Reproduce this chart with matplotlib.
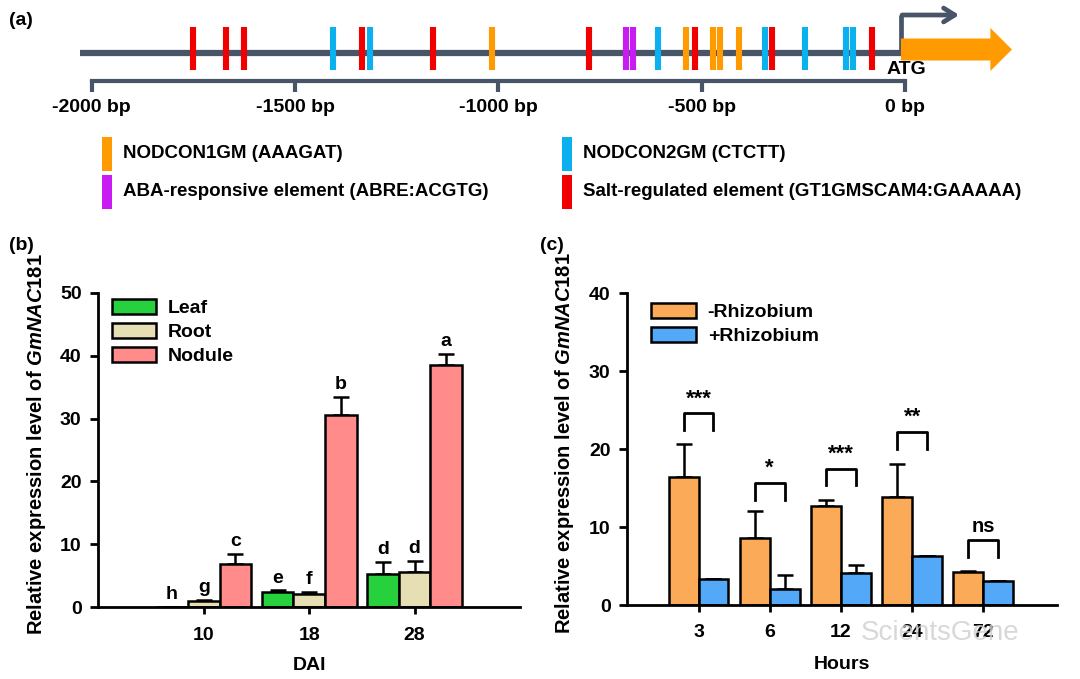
import numpy as np
import matplotlib
matplotlib.use('Agg')
from matplotlib import pyplot as plt
from matplotlib.patches import Rectangle, Polygon

plt.rcParams['font.family'] = ['Liberation Sans', 'DejaVu Sans']
plt.rcParams['font.weight'] = 'bold'
plt.rcParams['mathtext.fontset'] = 'custom'
plt.rcParams['mathtext.it'] = 'Liberation Sans:italic:bold'
plt.rcParams['mathtext.rm'] = 'Liberation Sans:bold'

# (a) promoter elements, positions in bp upstream of ATG
nodcon1_bp = [-1016, -538, -473, -455, -408]
nodcon2_bp = [-1408, -1315, -608, -344, -246, -146, -127]
abre_bp = [-687, -669]
salt_bp = [-1750, -1671, -1626, -1336, -1160, -776, -516, -327, -81]
scale_ticks = [-2000, -1500, -1000, -500, 0]
element_names = ['NODCON1GM (AAAGAT)', 'NODCON2GM (CTCTT)',
                 'ABA-responsive element (ABRE:ACGTG)',
                 'Salt-regulated element (GT1GMSCAM4:GAAAAA)']
element_colors = ['#ff9a00', '#0bb0ee', '#c81cf2', '#f00000']

# (b) tissues
dai = ['10', '18', '28']
tissues = ['Leaf', 'Root', 'Nodule']
leaf = [0.05, 2.5, 5.3]
leaf_err = [0.0, 0.2, 1.9]
root = [1.0, 2.1, 5.6]
root_err = [0.2, 0.4, 1.8]
nodule = [6.9, 30.6, 38.5]
nodule_err = [1.6, 2.9, 1.8]
letters = [['h', 'g', 'c'], ['e', 'f', 'b'], ['d', 'd', 'a']]
tissue_colors = ['#27d13d', '#e6dfb3', '#ff8c8a']

# (c) rhizobium time course
hours = ['3', '6', '12', '24', '72']
minus_rh = [16.4, 8.6, 12.7, 13.9, 4.2]
minus_err = [4.3, 3.4, 0.8, 4.2, 0.2]
plus_rh = [3.3, 2.1, 4.1, 6.3, 3.1]
plus_err = [0.1, 1.7, 1.0, 0.0, 0.0]
signif = ['***', '*', '***', '**', 'ns']
bracket_low = [22.4, 13.5, 15.4, 20.0, 6.1]
bracket_high = [24.6, 15.7, 17.5, 22.2, 8.3]

fig = plt.figure(figsize=(10.8, 6.79), dpi=100)

# ---------------- panel (a): drawn in a full-figure axes, x in bp, y in px
ppb = 0.4066            # pixels per bp
x0 = 905                # pixel of 0 bp
axa = fig.add_axes([0, 0, 1, 1])
axa.set_xlim(-x0 / ppb, (1080 - x0) / ppb)
axa.set_ylim(679, 0)
axa.axis('off')
axa.patch.set_alpha(0)

line_c = '#485467'
axa.plot([-2030, -10], [52.5, 52.5], color=line_c, lw=4.5, solid_capstyle='butt', zorder=1)
for pos, col in zip([nodcon1_bp, nodcon2_bp, abre_bp, salt_bp], element_colors):
    axa.vlines(pos, 27, 70, colors=col, lw=4.4, zorder=2)

# scale bar
axa.plot([-2000, 0], [80.5, 80.5], color=line_c, lw=3, solid_capstyle='projecting')
axa.vlines(scale_ticks, 80, 92, colors=line_c, lw=3)
for t in scale_ticks:
    axa.text(t, 108, '%d bp' % t, ha='center', va='center', fontsize=14, fontweight='bold')

# transcription start arrow and CDS arrow
axa.plot([-10, -10], [52, 15], color=line_c, lw=3.4, solid_capstyle='butt')
axa.annotate('', xy=(140, 15), xytext=(-14, 15),
             arrowprops=dict(arrowstyle='->, head_length=0.8, head_width=0.5',
                             color=line_c, lw=3.4))
cds = Polygon([(-10, 38.5), (210, 38.5), (210, 28), (263, 49.5), (210, 71),
               (210, 60.5), (-10, 60.5)], closed=True, color='#ff9a00', lw=0, zorder=3)
axa.add_patch(cds)
axa.text(4, 70, 'ATG', ha='center', va='center', fontsize=14, fontweight='bold', zorder=4)

# element legend
leg_pos = [(102, 154), (562, 154), (102, 192), (562, 192)]
for (px, py), name, col in zip(leg_pos, element_names, element_colors):
    axa.add_patch(Rectangle(((px - x0) / ppb, py - 17), 10 / ppb, 34, color=col, lw=0))
    axa.text((px + 21 - x0) / ppb, py, name, ha='left', va='center', fontsize=13.5,
             fontweight='bold')

fig.text(0.008, 0.97, '(a)', fontsize=14, fontweight='bold', ha='left', va='center')
fig.text(0.008, 0.638, '(b)', fontsize=14, fontweight='bold', ha='left', va='center')
fig.text(0.5, 0.638, '(c)', fontsize=14, fontweight='bold', ha='left', va='center')


def style_axes(ax):
    for s in ['top', 'right']:
        ax.spines[s].set_visible(False)
    for s in ['left', 'bottom']:
        ax.spines[s].set_linewidth(2)
    ax.tick_params(axis='y', direction='out', length=6, width=2, labelsize=14, pad=6)
    ax.tick_params(axis='x', direction='out', length=5, width=2, labelsize=14, pad=9)
    for lab in ax.get_xticklabels() + ax.get_yticklabels():
        lab.set_fontweight('bold')


ylab = r'Relative expression level of $\mathit{GmNAC181}$'

# ---------------- panel (b)
axb = fig.add_axes([98.3 / 1080, 1 - 607.3 / 679, (520 - 98.3) / 1080, 314.6 / 679])
xb = np.arange(len(dai))
w = 0.3
series_b = [(leaf, leaf_err), (root, root_err), (nodule, nodule_err)]
for i, ((vals, errs), name, col) in enumerate(zip(series_b, tissues, tissue_colors)):
    xs = xb + (i - 1) * w
    axb.bar(xs, vals, width=w, color=col, edgecolor='black', linewidth=1.8, label=name, zorder=2)
    axb.errorbar(xs, vals, yerr=[np.zeros(len(errs)), errs], fmt='none', ecolor='black',
                 elinewidth=1.8, capsize=6, capthick=1.8, zorder=1)
    for j in range(len(dai)):
        axb.text(xs[j], vals[j] + errs[j] + 0.6, letters[j][i], ha='center', va='bottom',
                 fontsize=14, fontweight='bold')
axb.set_xlim(-1, 3)
axb.set_ylim(0, 50)
axb.set_yticks([0, 10, 20, 30, 40, 50])
axb.set_xticks(xb)
axb.set_xticklabels(dai)
style_axes(axb)
axb.set_xlabel('DAI', fontsize=14, fontweight='bold')
axb.xaxis.set_label_coords(0.5, -0.158)
axb.set_ylabel(ylab, fontsize=14.5, fontweight='bold')
axb.yaxis.set_label_coords(-0.12, 0.52)
axb.legend(loc='upper left', bbox_to_anchor=(-0.01, 1.035), frameon=False, fontsize=14,
           handlelength=2.3, handleheight=0.8, labelspacing=0.3, handletextpad=0.6)

# ---------------- panel (c)
axc = fig.add_axes([627.3 / 1080, 1 - 605 / 679, (1056.7 - 627.3) / 1080, 311.7 / 679])
xc = np.arange(len(hours))
wc = 0.42
axc.bar(xc - wc / 2, minus_rh, width=wc, color='#fbab58', edgecolor='black', linewidth=1.8,
        label='-Rhizobium', zorder=2)
axc.bar(xc + wc / 2, plus_rh, width=wc, color='#54a8f8', edgecolor='black', linewidth=1.8,
        label='+Rhizobium', zorder=2)
axc.errorbar(xc - wc / 2, minus_rh, yerr=[np.zeros(len(minus_err)), minus_err], fmt='none',
             ecolor='black', elinewidth=1.8, capsize=6, capthick=1.8, zorder=1)
axc.errorbar(xc + wc / 2, plus_rh, yerr=[np.zeros(len(plus_err)), plus_err], fmt='none',
             ecolor='black', elinewidth=1.8, capsize=6, capthick=1.8, zorder=1)
for j in range(len(hours)):
    bx = [xc[j] - wc / 2, xc[j] - wc / 2, xc[j] + wc / 2, xc[j] + wc / 2]
    by = [bracket_low[j], bracket_high[j], bracket_high[j], bracket_low[j]]
    axc.plot(bx, by, color='black', lw=2)
    axc.text(xc[j], bracket_high[j] + 0.5, signif[j], ha='center', va='bottom',
             fontsize=14.5 if signif[j] == 'ns' else 16, fontweight='bold')
axc.set_xlim(-1, 5.03)
axc.set_ylim(0, 40)
axc.set_yticks([0, 10, 20, 30, 40])
axc.set_xticks(xc)
axc.set_xticklabels(hours)
style_axes(axc)
axc.set_xlabel('Hours', fontsize=14, fontweight='bold')
axc.xaxis.set_label_coords(0.5, -0.165)
axc.set_ylabel(ylab, fontsize=14.5, fontweight='bold')
axc.yaxis.set_label_coords(-0.12, 0.52)
axc.legend(loc='upper left', bbox_to_anchor=(0.015, 1.025), frameon=False, fontsize=14,
           handlelength=2.3, handleheight=0.8, labelspacing=0.3, handletextpad=0.6)

# watermark
fig.text(0.87, 0.068, 'ScientsGene', fontsize=20, fontweight='normal', color='#cfcfcf',
         alpha=0.8, ha='center', va='center')

fig.savefig('out.png', dpi=100)
